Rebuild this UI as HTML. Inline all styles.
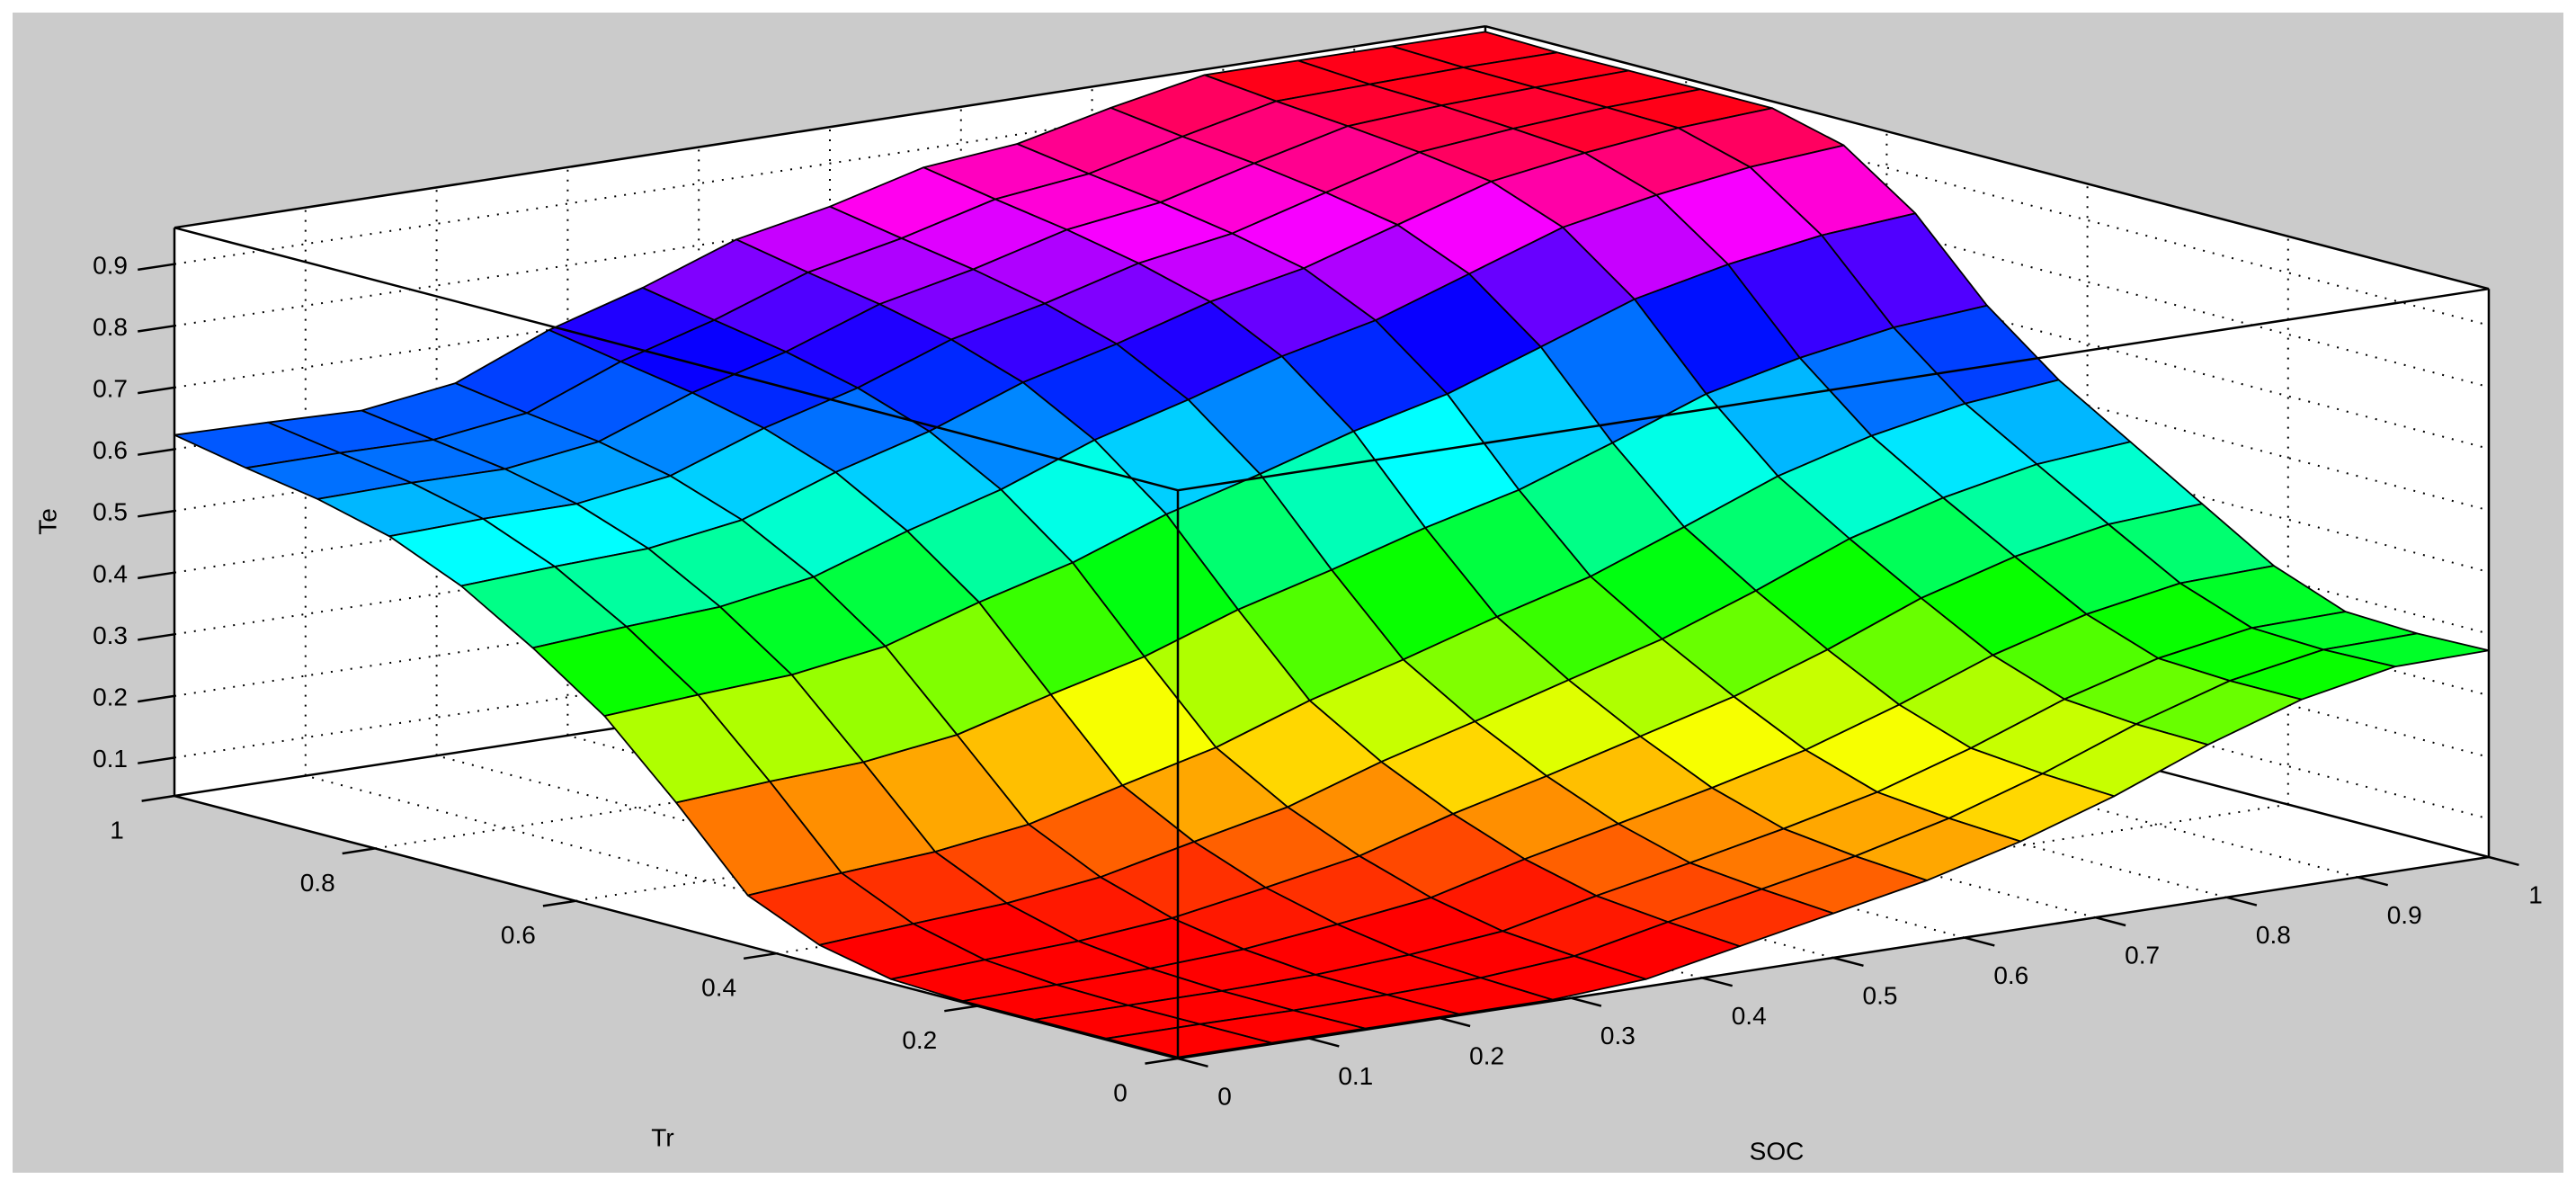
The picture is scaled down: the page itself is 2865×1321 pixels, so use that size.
<!DOCTYPE html>
<html>
<head>
<meta charset="utf-8">
<style>
html,body{margin:0;padding:0;background:#ffffff;}
svg{display:block;}
text{font-family:"Liberation Sans",Arial,sans-serif;font-size:28px;fill:#000;}
</style>
</head>
<body>
<svg id="chart" width="2865" height="1321" viewBox="0 0 2865 1321" xmlns="http://www.w3.org/2000/svg">
  <rect x="0" y="0" width="2865" height="1321" fill="#ffffff"/>
  <rect x="14" y="14" width="2837" height="1290" fill="#cbcbcb"/>
  <g id="gBack"></g>
  <g id="gSurf"></g>
  <g id="gFront"></g>
  <g id="gText"></g>
</svg>
<script>
// ---- data ----
const trGrid = [0,1/14,2/14,3/14,4/14,5/14,6/14,7/14,8/14,9/14,10/14,11/14,12/14,13/14,1];
const socGrid = [0,1/14,2/14,3/14,4/14,5/14,6/14,7/14,8/14,9/14,10/14,11/14,12/14,13/14,1];
// rows indexed by Tr, columns by SOC
const teRow0  = [.040,.040,.040,.040,.040,.050,.080,.110,.140,.180,.230,.290,.340,.370,.373];
const teRow1  = [.040,.040,.039,.041,.045,.057,.089,.119,.149,.187,.236,.293,.340,.367,.370];
const teRow2  = [.040,.040,.040,.043,.052,.067,.101,.131,.163,.199,.247,.303,.346,.372,.375];
const teRow3  = [.040,.043,.046,.054,.071,.091,.130,.164,.199,.237,.287,.344,.387,.414,.419];
const teRow4  = [.045,.053,.060,.074,.100,.128,.173,.211,.252,.293,.346,.406,.450,.479,.489];
const teRow5  = [.070,.081,.091,.110,.144,.177,.227,.269,.313,.356,.411,.472,.515,.546,.559];
const teRow6  = [.120,.133,.144,.165,.205,.243,.296,.339,.385,.427,.484,.543,.585,.614,.629];
const teRow7  = [.240,.251,.259,.280,.322,.360,.413,.454,.499,.537,.590,.646,.681,.707,.719];
const teRow8  = [.350,.361,.370,.393,.441,.482,.537,.579,.625,.662,.715,.769,.802,.826,.838];
const teRow9  = [.430,.441,.450,.475,.526,.570,.627,.669,.716,.751,.803,.855,.884,.906,.918];
const teRow10 = [.500,.508,.514,.537,.591,.634,.690,.729,.774,.805,.852,.899,.922,.939,.948];
const teRow11 = [.550,.555,.556,.578,.632,.674,.729,.764,.806,.831,.874,.916,.931,.942,.948];
const teRow12 = [.580,.583,.582,.603,.659,.702,.756,.789,.830,.851,.891,.928,.938,.944,.948];
const teRow13 = [.600,.601,.599,.619,.679,.723,.777,.809,.849,.867,.904,.938,.942,.946,.947];
const teRow14 = [.623,.620,.616,.637,.700,.745,.800,.830,.870,.885,.920,.950,.950,.950,.950];
const teRows = [teRow0,teRow1,teRow2,teRow3,teRow4,teRow5,teRow6,teRow7,teRow8,teRow9,teRow10,teRow11,teRow12,teRow13,teRow14];
const zTicks = [0.1,0.2,0.3,0.4,0.5,0.6,0.7,0.8,0.9];
const zTickLabels = ["0.1","0.2","0.3","0.4","0.5","0.6","0.7","0.8","0.9"];
const trTicks = [0,0.2,0.4,0.6,0.8,1];
const trTickLabels = ["0","0.2","0.4","0.6","0.8","1"];
const socTicks = [0,0.1,0.2,0.3,0.4,0.5,0.6,0.7,0.8,0.9,1];
const socTickLabels = ["0","0.1","0.2","0.3","0.4","0.5","0.6","0.7","0.8","0.9","1"];

// ---- axes / projection ----
const ZLO = 0.038, ZHI = 0.959;
function px(tr, soc){ return 1310 - 1116*tr + 1458*soc; }
function py(tr, soc, z){ return 1177 - 292*tr - 224*soc - 686*(z - ZLO); }
function P(tr,soc,z){ return [px(tr,soc), py(tr,soc,z)]; }
function depth(tr,soc,z){ return tr + 0.765*soc - 0.676*z; }

const NS = "http://www.w3.org/2000/svg";
function mk(tag, parent){ const e = document.createElementNS(NS, tag); parent.appendChild(e); return e; }
function line(parent, a, b, w, dash){
  const l = mk('line', parent);
  l.setAttribute('x1', a[0].toFixed(1)); l.setAttribute('y1', a[1].toFixed(1));
  l.setAttribute('x2', b[0].toFixed(1)); l.setAttribute('y2', b[1].toFixed(1));
  l.setAttribute('stroke', '#000'); l.setAttribute('stroke-width', w);
  if (dash) l.setAttribute('stroke-dasharray', dash);
  return l;
}
const gBack = document.getElementById('gBack');
const gSurf = document.getElementById('gSurf');
const gFront = document.getElementById('gFront');
const gText = document.getElementById('gText');

const hex = [P(1,0,ZHI),P(1,1,ZHI),P(0,1,ZHI),P(0,1,ZLO),P(0,0,ZLO),P(1,0,ZLO)];
const bg = mk('polygon', gBack);
bg.setAttribute('points', hex.map(p=>p[0].toFixed(1)+','+p[1].toFixed(1)).join(' '));
bg.setAttribute('fill', '#ffffff');



const DOT = "2,9";
socTicks.forEach(s=>{ if(s>0&&s<1){ const l=line(gBack,P(1,s,ZLO),P(1,s,ZHI),2,DOT);
    }});
trTicks.forEach(t=>{ if(t>0&&t<1){ const l=line(gBack,P(t,1,ZLO),P(t,1,ZHI),2,DOT);
    }});
zTicks.forEach(z=>{
  const a=line(gBack,P(1,0,z),P(1,1,z),2,DOT);
   
  const b=line(gBack,P(1,1,z),P(0,1,z),2,DOT);
   
});
socTicks.forEach(s=>{ if(s>0&&s<1){ const l=line(gBack,P(0,s,ZLO),P(1,s,ZLO),2,DOT);
    }});
trTicks.forEach(t=>{ if(t>0&&t<1){ const l=line(gBack,P(t,0,ZLO),P(t,1,ZLO),2,DOT);
    }});
[[P(1,0,ZHI),P(1,1,ZHI)],[P(1,1,ZHI),P(0,1,ZHI)],[P(1,0,ZLO),P(1,1,ZLO)],[P(1,1,ZLO),P(0,1,ZLO)],[P(1,1,ZLO),P(1,1,ZHI)]].forEach(e=>{
  const l=line(gBack,e[0],e[1],2.5);
   
});

// ---- surface ----
let cmin=Infinity, cmax=-Infinity;
teRows.forEach(r=>r.forEach(v=>{ if(v<cmin)cmin=v; if(v>cmax)cmax=v; }));
function hsvColor(z){
  let idx = Math.floor((z-cmin)/(cmax-cmin)*64); if(idx>63)idx=63; if(idx<0)idx=0;
  const h = idx/64*6; const i=Math.floor(h); const f=h-i;
  const q=1-f, t=f; let r,g,b;
  switch(i%6){case 0:r=1;g=t;b=0;break;case 1:r=q;g=1;b=0;break;case 2:r=0;g=1;b=t;break;
    case 3:r=0;g=q;b=1;break;case 4:r=t;g=0;b=1;break;default:r=1;g=0;b=q;}
  return 'rgb('+Math.round(r*255)+','+Math.round(g*255)+','+Math.round(b*255)+')';
}
const faces=[];
for(let i=0;i<trGrid.length-1;i++){
  for(let j=0;j<socGrid.length-1;j++){
    const c=[[i,j],[i+1,j],[i+1,j+1],[i,j+1]];
    let d=0; const pts=[];
    c.forEach(([a,b])=>{ const z=teRows[a][b]; d+=depth(trGrid[a],socGrid[b],z); pts.push(P(trGrid[a],socGrid[b],z)); });
    faces.push({d:d/4, pts, col:hsvColor(teRows[i][j]), i, j});
  }
}
faces.sort((a,b)=>b.d-a.d);
faces.forEach(f=>{
  const p=mk('polygon', gSurf);
  p.setAttribute('points', f.pts.map(q=>q[0].toFixed(1)+','+q[1].toFixed(1)).join(' '));
  p.setAttribute('fill', f.col);
  p.setAttribute('stroke', '#000');
  p.setAttribute('stroke-width', '1.8');
  p.setAttribute('stroke-linejoin', 'round');
  
  
});

// ---- front box edges ----
[[P(1,0,ZLO),P(1,0,ZHI)],[P(0,1,ZLO),P(0,1,ZHI)],[P(1,0,ZHI),P(0,0,ZHI)],[P(0,0,ZHI),P(0,1,ZHI)],
 [P(0,0,ZLO),P(0,0,ZHI)],[P(1,0,ZLO),P(0,0,ZLO)],[P(0,0,ZLO),P(0,1,ZLO)]].forEach(e=>{
  const l=line(gFront,e[0],e[1],2.5);
   
});

// ---- ticks and labels ----
function txt(x,y,s,anchor,name){
  const t=mk('text',gText); t.setAttribute('x',x.toFixed(1)); t.setAttribute('y',y.toFixed(1));
  t.setAttribute('text-anchor',anchor); t.setAttribute('dominant-baseline','middle'); t.textContent=s;
  
  
  return t;
}
zTicks.forEach((z,k)=>{
  const a=P(1,0,z), b=P(1,-0.028,z);
  const l=line(gFront,a,b,2.5);
   
  txt(142, b[1]-3, zTickLabels[k], 'end', 'z-tick-label');
});
trTicks.forEach((t,k)=>{
  const a=P(t,0,ZLO), b=P(t,-0.025,ZLO);
  const l=line(gFront,a,b,2.5);
   
  txt(a[0]-64, a[1]+40, trTickLabels[k], 'middle', 'tr-tick-label');
});
socTicks.forEach((s,k)=>{
  const a=P(0,s,ZLO), b=P(-0.03,s,ZLO);
  const l=line(gFront,a,b,2.5);
   
  txt(a[0]+52, a[1]+44, socTickLabels[k], 'middle', 'soc-tick-label');
});
const te=txt(0,0,'Te','middle','z-axis-title');
te.setAttribute('transform','translate(55,580) rotate(-90)');
txt(737,1267,'Tr','middle','tr-axis-title');
txt(1976,1282,'SOC','middle','soc-axis-title');
</script>
</body>
</html>
